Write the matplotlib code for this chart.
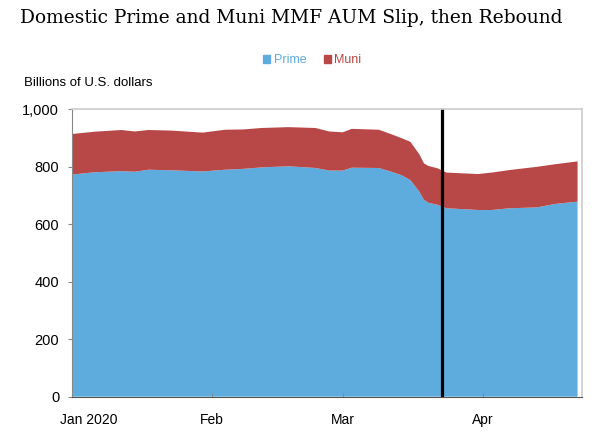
import matplotlib
matplotlib.use("Agg")
import matplotlib.pyplot as plt
import matplotlib.transforms as mtransforms
from matplotlib.patches import Patch
import numpy as np
import pandas as pd

# ── data (billions of U.S. dollars) ─────────────────────────────
DATES = [
    "2020-01-01", "2020-01-06", "2020-01-12", "2020-01-15", "2020-01-18",
    "2020-01-23", "2020-01-30", "2020-02-04", "2020-02-08", "2020-02-12",
    "2020-02-18", "2020-02-24", "2020-02-27", "2020-03-01", "2020-03-03",
    "2020-03-09", "2020-03-12", "2020-03-14", "2020-03-16", "2020-03-18",
    "2020-03-19", "2020-03-20", "2020-03-22", "2020-03-24", "2020-03-31",
    "2020-04-03", "2020-04-07", "2020-04-13", "2020-04-17", "2020-04-22",
]
PRIME = [772, 780, 784, 782, 789, 787, 783, 789, 792, 797,
         801, 795, 786, 786, 796, 795, 781, 770, 753, 712,
         684, 674, 667, 655, 649, 649, 655, 658, 670, 678]
MUNI = [141, 141, 143, 140, 138, 138, 135, 139, 137, 137,
        136, 139, 136, 133, 135, 133, 130, 129, 133, 130,
        127, 128, 127, 124, 125, 130, 133, 141, 138, 140]

EVENT_DATE = "2020-03-23"
TICK_DATES = ["2020-01-01", "2020-02-01", "2020-03-01", "2020-04-01"]
TICK_LABELS = ["Jan 2020", "Feb", "Mar", "Apr"]
Y_TICKS = [0, 200, 400, 600, 800, 1000]

PRIME_COLOR = "#5EACDE"
MUNI_COLOR = "#B84747"
SANS = ["Liberation Sans", "DejaVu Sans"]

dates = pd.to_datetime(DATES)
prime = np.array(PRIME)
muni = np.array(MUNI)

fig = plt.figure(figsize=(5.97, 4.41), dpi=100)
ax = fig.add_axes([0.120, 0.1005, 0.855, 0.6523])

ax.stackplot(dates, prime, muni, colors=[PRIME_COLOR, MUNI_COLOR], linewidth=0)
ax.axvline(pd.Timestamp(EVENT_DATE), color="black", linewidth=2.3)

ax.set_xlim(pd.Timestamp("2020-01-01"), pd.Timestamp("2020-04-23"))
ax.set_ylim(0, 1000)

ax.set_xticks(pd.to_datetime(TICK_DATES))
ax.set_xticklabels(TICK_LABELS, family=SANS, fontsize=10)
ax.set_yticks(Y_TICKS)
ax.set_yticklabels([f"{v:,}" for v in Y_TICKS], family=SANS, fontsize=10.5)
ax.tick_params(axis="x", direction="in", length=3, color="#888888", pad=12)
ax.tick_params(axis="y", direction="out", length=3, color="#888888", pad=6)

# first label sits to the right of its tick, as in the source
lbl = ax.get_xticklabels()[0]
lbl.set_transform(lbl.get_transform() + mtransforms.ScaledTranslation(17 / 100, 0, fig.dpi_scale_trans))

for side in ["top", "right"]:
    ax.spines[side].set_color("#cccccc")
    ax.spines[side].set_linewidth(1.2)
ax.spines["left"].set_color("#888888")
ax.spines["bottom"].set_color("#555555")

fig.text(0.034, 0.980, "Domestic Prime and Muni MMF AUM Slip, then Rebound",
         family=["DejaVu Serif"], fontsize=13.4, va="top", ha="left")
fig.text(0.040, 0.812, "Billions of U.S. dollars", family=SANS, fontsize=9.5,
         va="center", ha="left")

handles = [Patch(color=PRIME_COLOR, label="Prime"), Patch(color=MUNI_COLOR, label="Muni")]
leg = fig.legend(handles=handles, loc="center", bbox_to_anchor=(0.523, 0.864), ncol=2,
                 frameon=False, handlelength=0.6, handleheight=0.6, handletextpad=0.25,
                 columnspacing=1.4, prop={"family": SANS, "size": 9})
for text, c in zip(leg.get_texts(), [PRIME_COLOR, MUNI_COLOR]):
    text.set_color(c)

fig.savefig("out.png", dpi=100)
